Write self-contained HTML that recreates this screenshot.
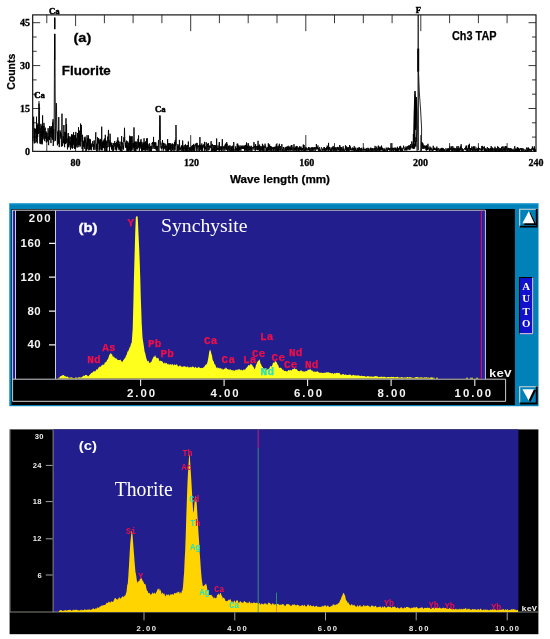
<!DOCTYPE html>
<html lang="en"><head><meta charset="utf-8"><title>Figure</title>
<style>html,body{margin:0;padding:0;background:#fff}svg{display:block}text{white-space:pre}</style>
</head><body>
<svg width="550" height="639" viewBox="0 0 550 639">
<rect width="550" height="639" fill="#fff"/>
<g id="pa" stroke="#000" fill="none">
<rect x="32.7" y="14.9" width="503.3" height="136.5" stroke-width="1.1"/>
<path d="M46.8 14.9v8.3M46.8 151.4v-8.3M75.6 14.9v11.2M75.6 151.4v-16.3M104.4 14.9v8.3M104.4 151.4v-8.3M133.1 14.9v8.3M133.1 151.4v-8.3M161.9 14.9v8.3M161.9 151.4v-8.3M190.7 14.9v16.3M190.7 151.4v-16.3M219.4 14.9v8.3M219.4 151.4v-8.3M248.2 14.9v8.3M248.2 151.4v-8.3M277.0 14.9v8.3M277.0 151.4v-8.3M305.8 14.9v16.3M305.8 151.4v-16.3M334.5 14.9v8.3M334.5 151.4v-8.3M363.3 14.9v8.3M363.3 151.4v-8.3M392.1 14.9v8.3M392.1 151.4v-8.3M420.8 14.9v16.3M420.8 151.4v-16.3M449.6 14.9v8.3M449.6 151.4v-8.3M478.4 14.9v8.3M478.4 151.4v-8.3M507.1 14.9v8.3M507.1 151.4v-8.3M32.7 151.4h7.5M536.0 151.4h-7.5M32.7 137.1h4M536.0 137.1h-4M32.7 122.8h4M536.0 122.8h-4M32.7 108.5h7.5M536.0 108.5h-7.5M32.7 94.2h4M536.0 94.2h-4M32.7 79.9h4M536.0 79.9h-4M32.7 65.6h7.5M536.0 65.6h-7.5M32.7 51.3h4M536.0 51.3h-4M32.7 37.0h4M536.0 37.0h-4M32.7 22.7h7.5M536.0 22.7h-7.5" stroke-width="0.9" stroke="#222"/>
<path d="M33.10 141.3L33.29 120.7L33.48 118.1L33.67 116.7L33.86 126.8L34.05 133.0L34.24 143.4L34.43 141.4L34.62 128.3L34.81 131.8L35.00 143.1L35.19 131.0L35.38 132.9L35.57 128.8L35.76 133.1L35.95 130.1L36.14 142.1L36.33 141.4L36.52 116.7L36.71 138.3L36.90 133.1L37.09 126.0L37.28 143.3L37.47 125.2L37.66 137.0L37.85 123.3L38.04 123.7L38.23 127.6L38.42 133.9L38.61 127.8L38.80 123.3L38.99 103.5L39.18 106.9L39.37 110.3L39.56 133.7L39.75 134.7L39.94 143.6L40.13 127.8L40.32 137.0L40.51 143.5L40.70 141.6L40.89 123.9L41.08 144.2L41.27 141.9L41.46 137.7L41.65 125.7L41.84 143.1L42.03 139.7L42.22 144.3L42.41 142.0L42.60 115.4L42.79 139.8L42.98 130.1L43.17 138.6L43.36 126.1L43.55 129.3L43.74 135.0L43.93 122.9L44.12 126.7L44.31 126.1L44.50 140.8L44.69 141.1L44.88 129.0L45.07 129.8L45.26 127.7L45.45 135.9L45.64 138.7L45.83 137.5L46.02 131.3L46.21 142.2L46.40 142.3L46.59 132.7L46.78 142.6L46.97 132.9L47.16 137.0L47.35 141.2L47.54 140.6L47.73 137.3L47.92 138.5L48.11 128.2L48.30 135.8L48.49 144.9L48.68 145.2L48.87 136.4L49.06 139.2L49.25 130.6L49.44 139.9L49.63 126.1L49.82 128.1L50.01 135.9L50.20 136.9L50.39 127.8L50.58 127.8L50.77 127.8L50.96 143.1L51.15 126.0L51.34 128.7L51.53 133.2L51.72 127.5L51.91 138.1L52.10 130.0L52.29 135.9L52.48 139.6L52.67 122.5L52.86 134.1L53.05 119.2L53.24 145.9L53.43 143.3L53.62 130.8L53.81 129.0L54.00 141.4L54.19 119.6L54.38 79.2L54.57 34.9L54.76 17.8L54.95 42.3L55.14 88.1L55.33 125.3L55.52 140.7L55.71 135.8L55.90 123.2L56.09 110.2L56.28 103.1L56.47 105.8L56.66 116.8L56.85 129.3L57.04 134.2L57.23 140.5L57.42 145.3L57.61 143.8L57.80 131.7L57.99 142.5L58.18 144.0L58.37 130.4L58.56 142.6L58.75 117.1L58.94 138.3L59.13 146.8L59.32 147.1L59.51 143.0L59.70 134.3L59.89 132.1L60.08 130.4L60.27 136.2L60.46 132.0L60.65 133.4L60.84 138.6L61.03 133.3L61.22 135.7L61.41 146.6L61.60 145.4L61.79 136.7L61.98 113.7L62.17 138.9L62.36 146.1L62.55 146.0L62.74 143.9L62.93 139.1L63.12 136.0L63.31 136.8L63.50 143.2L63.69 138.1L63.88 125.0L64.07 142.7L64.26 139.8L64.45 144.2L64.64 147.2L64.83 131.8L65.02 144.1L65.21 138.1L65.40 132.1L65.59 139.4L65.78 143.9L65.97 118.3L66.16 142.8L66.35 142.6L66.54 124.2L66.73 136.3L66.92 141.8L67.11 138.3L67.30 143.4L67.49 149.4L67.68 143.6L67.87 141.9L68.06 135.0L68.25 133.0L68.44 147.1L68.63 136.0L68.82 147.2L69.01 140.5L69.20 136.4L69.39 137.7L69.58 141.9L69.77 144.8L69.96 144.7L70.15 141.1L70.34 146.8L70.53 149.6L70.72 136.7L70.91 140.2L71.10 147.4L71.29 146.5L71.48 135.2L71.67 144.7L71.86 134.0L72.05 148.2L72.24 135.1L72.43 148.6L72.62 136.3L72.81 145.0L73.00 141.0L73.19 138.1L73.38 142.0L73.57 132.2L73.76 144.4L73.95 139.6L74.14 148.0L74.33 143.4L74.52 148.9L74.71 135.2L74.90 142.3L75.09 135.4L75.28 148.9L75.47 143.3L75.66 136.1L75.85 131.9L76.04 138.1L76.23 146.5L76.42 137.9L76.61 138.8L76.80 142.6L76.99 143.8L77.18 147.6L77.37 136.2L77.56 133.0L77.75 139.7L77.94 145.3L78.13 139.6L78.32 144.7L78.51 127.2L78.70 137.0L78.89 147.1L79.08 138.9L79.27 133.8L79.46 145.0L79.65 130.6L79.84 136.2L80.03 140.0L80.22 146.3L80.41 146.5L80.60 123.6L80.79 141.6L80.98 133.4L81.17 133.9L81.36 125.1L81.55 134.9L81.74 139.9L81.93 145.9L82.12 149.1L82.31 146.9L82.50 134.8L82.69 137.3L82.88 151.4L83.07 147.1L83.26 141.4L83.45 141.6L83.64 146.4L83.83 140.7L84.02 147.1L84.21 142.8L84.40 137.5L84.59 139.9L84.78 149.0L84.97 139.6L85.16 136.7L85.35 142.9L85.54 139.3L85.73 140.5L85.92 151.4L86.11 148.6L86.30 142.8L86.49 150.3L86.68 148.1L86.87 140.4L87.06 135.2L87.25 149.3L87.44 145.3L87.63 138.6L87.82 146.0L88.01 138.1L88.20 141.5L88.39 135.3L88.58 139.6L88.77 150.4L88.96 139.4L89.15 146.0L89.34 147.1L89.53 149.3L89.72 138.8L89.91 139.1L90.10 150.0L90.29 139.6L90.48 148.7L90.67 145.7L90.86 148.4L91.05 144.4L91.24 147.7L91.43 150.2L91.62 150.2L91.81 143.4L92.00 147.0L92.19 145.5L92.38 145.4L92.57 144.7L92.76 141.2L92.95 145.0L93.14 145.5L93.33 144.5L93.52 149.7L93.71 144.5L93.90 146.1L94.09 140.4L94.28 140.9L94.47 144.8L94.66 148.7L94.85 149.9L95.04 148.8L95.23 140.9L95.42 139.7L95.61 135.0L95.80 132.3L95.99 140.0L96.18 149.4L96.37 146.4L96.56 143.8L96.75 151.4L96.94 147.6L97.13 146.4L97.32 148.6L97.51 137.2L97.70 143.8L97.89 150.7L98.08 143.4L98.27 140.1L98.46 143.0L98.65 138.2L98.84 143.8L99.03 143.4L99.22 139.7L99.41 149.6L99.60 141.5L99.79 150.7L99.98 146.6L100.17 139.7L100.36 140.1L100.55 146.0L100.74 138.9L100.93 149.1L101.12 144.8L101.31 148.8L101.50 150.2L101.69 126.7L101.88 145.3L102.07 148.2L102.26 150.4L102.45 142.7L102.64 147.7L102.83 141.6L103.02 143.3L103.21 140.5L103.40 148.1L103.59 142.1L103.78 147.0L103.97 143.5L104.16 139.4L104.35 142.7L104.54 142.4L104.73 148.4L104.92 138.3L105.11 151.4L105.30 134.8L105.49 142.3L105.68 146.6L105.87 140.5L106.06 140.3L106.25 151.3L106.44 141.5L106.63 143.6L106.82 151.4L107.01 146.0L107.20 147.6L107.39 147.2L107.58 141.1L107.77 136.6L107.96 142.8L108.15 141.0L108.34 132.1L108.53 129.9L108.72 141.7L108.91 146.9L109.10 140.1L109.29 142.9L109.48 151.3L109.67 141.9L109.86 143.3L110.05 133.7L110.24 135.4L110.43 145.3L110.62 145.7L110.81 142.3L111.00 147.2L111.19 143.4L111.38 145.9L111.57 149.5L111.76 148.2L111.95 142.9L112.14 149.2L112.33 145.0L112.52 148.8L112.71 149.8L112.90 151.4L113.09 146.0L113.28 149.8L113.47 150.6L113.66 143.1L113.85 145.7L114.04 146.4L114.23 146.1L114.42 146.2L114.61 141.1L114.80 141.4L114.99 145.9L115.18 149.9L115.37 143.0L115.56 146.2L115.75 146.4L115.94 149.0L116.13 146.7L116.32 150.6L116.51 142.2L116.70 149.9L116.89 143.0L117.08 141.7L117.27 140.4L117.46 146.7L117.65 140.0L117.84 137.4L118.03 146.4L118.22 148.1L118.41 140.6L118.60 142.1L118.79 149.6L118.98 144.0L119.17 148.6L119.36 144.0L119.55 145.9L119.74 149.7L119.93 141.6L120.12 148.3L120.31 151.1L120.50 148.4L120.69 146.3L120.88 147.1L121.07 150.5L121.26 142.4L121.45 144.1L121.64 136.1L121.83 151.4L122.02 149.4L122.21 149.3L122.40 142.5L122.59 142.4L122.78 143.5L122.97 146.3L123.16 148.2L123.35 145.7L123.54 149.6L123.73 145.2L123.92 137.3L124.11 141.9L124.30 137.4L124.49 127.8L124.68 134.7L124.87 140.4L125.06 141.4L125.25 144.3L125.44 147.2L125.63 142.8L125.82 146.6L126.01 148.0L126.20 145.7L126.39 140.6L126.58 147.6L126.77 144.8L126.96 150.8L127.15 145.3L127.34 151.1L127.53 144.6L127.72 141.3L127.91 144.4L128.10 143.8L128.29 146.3L128.48 151.4L128.67 144.1L128.86 142.7L129.05 148.0L129.24 146.6L129.43 150.6L129.62 135.7L129.81 146.4L130.00 144.9L130.19 146.1L130.38 151.4L130.57 136.5L130.76 150.3L130.95 151.1L131.14 143.4L131.33 136.4L131.52 150.4L131.71 146.3L131.90 141.0L132.09 136.8L132.28 136.3L132.47 146.1L132.66 145.2L132.85 149.7L133.04 144.4L133.23 147.2L133.42 143.0L133.61 147.7L133.80 136.8L133.99 127.4L134.18 134.9L134.37 146.7L134.56 141.8L134.75 151.3L134.94 145.1L135.13 150.8L135.32 142.2L135.51 142.4L135.70 141.7L135.89 151.4L136.08 141.5L136.27 144.2L136.46 148.6L136.65 146.5L136.84 143.2L137.03 142.0L137.22 146.3L137.41 149.3L137.60 147.5L137.79 145.9L137.98 138.8L138.17 143.2L138.36 147.7L138.55 135.4L138.74 145.5L138.93 146.9L139.12 142.9L139.31 150.9L139.50 150.4L139.69 142.4L139.88 142.0L140.07 147.2L140.26 148.7L140.45 141.5L140.64 146.7L140.83 141.2L141.02 139.2L141.21 142.8L141.40 144.1L141.59 150.7L141.78 141.8L141.97 145.3L142.16 151.4L142.35 149.6L142.54 144.5L142.73 149.4L142.92 149.1L143.11 142.4L143.30 150.3L143.49 145.0L143.68 143.1L143.87 149.9L144.06 138.3L144.25 148.7L144.44 148.6L144.63 149.7L144.82 142.3L145.01 150.8L145.20 149.2L145.39 148.8L145.58 141.5L145.77 150.4L145.96 150.8L146.15 141.7L146.34 148.0L146.53 138.6L146.72 142.3L146.91 150.0L147.10 144.3L147.29 138.2L147.48 149.3L147.67 143.4L147.86 150.7L148.05 144.3L148.24 148.1L148.43 146.5L148.62 146.7L148.81 149.5L149.00 149.8L149.19 151.3L149.38 146.3L149.57 143.4L149.76 144.5L149.95 150.8L150.14 146.6L150.33 146.2L150.52 149.2L150.71 151.4L150.90 151.4L151.09 145.8L151.28 150.4L151.47 150.9L151.66 146.6L151.85 147.5L152.04 143.1L152.23 144.2L152.42 142.4L152.61 143.4L152.80 142.4L152.99 149.1L153.18 142.0L153.37 143.6L153.56 136.9L153.75 147.4L153.94 146.3L154.13 146.6L154.32 142.2L154.51 145.4L154.70 143.0L154.89 148.9L155.08 146.3L155.27 149.0L155.46 142.5L155.65 145.3L155.84 142.4L156.03 147.0L156.22 150.2L156.41 147.6L156.60 150.6L156.79 145.7L156.98 149.5L157.17 146.3L157.36 148.5L157.55 146.6L157.74 151.3L157.93 149.2L158.12 148.8L158.31 144.3L158.50 140.0L158.69 147.3L158.88 151.1L159.07 148.3L159.26 145.7L159.45 137.1L159.64 124.5L159.83 115.5L160.02 117.4L160.21 128.4L160.40 140.4L160.59 145.9L160.78 147.2L160.97 147.9L161.16 148.5L161.35 146.9L161.54 148.6L161.73 146.2L161.92 148.5L162.11 142.8L162.30 143.2L162.49 140.0L162.68 146.6L162.87 146.8L163.06 148.2L163.25 143.0L163.44 150.5L163.63 146.4L163.82 142.8L164.01 145.9L164.20 146.7L164.39 148.6L164.58 146.9L164.77 145.3L164.96 143.6L165.15 148.8L165.34 149.7L165.53 146.1L165.72 145.8L165.91 144.5L166.10 151.4L166.29 146.3L166.48 147.1L166.67 145.8L166.86 146.4L167.05 150.0L167.24 151.4L167.43 146.1L167.62 139.1L167.81 148.3L168.00 150.5L168.19 148.4L168.38 150.9L168.57 143.2L168.76 149.3L168.95 144.1L169.14 144.4L169.33 143.2L169.52 149.3L169.71 149.5L169.90 147.3L170.09 149.9L170.28 143.2L170.47 150.4L170.66 148.0L170.85 144.4L171.04 149.8L171.23 151.1L171.42 150.1L171.61 151.4L171.80 144.4L171.99 148.5L172.18 143.4L172.37 147.2L172.56 150.3L172.75 143.9L172.94 149.4L173.13 144.2L173.32 146.9L173.51 148.2L173.70 148.8L173.89 151.4L174.08 150.5L174.27 147.3L174.46 142.1L174.65 149.1L174.84 145.0L175.03 150.3L175.22 140.2L175.41 146.0L175.60 144.5L175.79 136.4L175.98 125.0L176.17 132.1L176.36 145.5L176.55 146.2L176.74 146.8L176.93 147.9L177.12 151.4L177.31 149.1L177.50 146.5L177.69 150.5L177.88 144.1L178.07 151.4L178.26 149.2L178.45 148.0L178.64 145.5L178.83 147.8L179.02 148.0L179.21 150.4L179.40 139.9L179.59 143.7L179.78 149.5L179.97 148.2L180.16 150.4L180.35 149.6L180.54 147.9L180.73 149.1L180.92 147.0L181.11 147.1L181.30 146.2L181.49 145.4L181.68 149.2L181.87 151.0L182.06 146.0L182.25 148.9L182.44 150.1L182.63 140.5L182.82 143.8L183.01 151.4L183.20 151.4L183.39 146.6L183.58 149.5L183.77 151.2L183.96 149.2L184.15 145.0L184.34 145.4L184.53 149.0L184.72 149.0L184.91 148.6L185.10 151.2L185.29 145.2L185.48 144.3L185.67 150.3L185.86 150.9L186.05 148.1L186.24 151.4L186.43 151.4L186.62 145.5L186.81 146.5L187.00 148.9L187.19 145.3L187.38 149.3L187.57 148.9L187.76 151.4L187.95 145.0L188.14 146.8L188.33 141.5L188.52 144.4L188.71 149.3L188.90 151.3L189.09 148.2L189.28 148.7L189.47 147.6L189.66 150.6L189.85 147.4L190.04 149.6L190.23 149.6L190.42 149.8L190.61 147.7L190.80 151.4L190.99 147.5L191.18 150.6L191.37 150.7L191.56 150.2L191.75 145.8L191.94 151.1L192.13 151.4L192.32 149.3L192.51 145.0L192.70 147.4L192.89 150.3L193.08 145.9L193.27 150.6L193.46 144.6L193.65 143.9L193.84 150.6L194.03 149.6L194.22 145.4L194.41 151.3L194.60 150.1L194.79 146.5L194.98 145.2L195.17 145.7L195.36 143.7L195.55 145.7L195.74 145.6L195.93 148.1L196.12 148.6L196.31 150.9L196.50 145.1L196.69 142.9L196.88 148.7L197.07 143.1L197.26 144.5L197.45 146.7L197.64 147.9L197.83 147.7L198.02 151.2L198.21 145.3L198.40 147.0L198.59 145.8L198.78 146.6L198.97 146.2L199.16 149.0L199.35 151.0L199.54 144.5L199.73 149.7L199.92 137.1L200.11 148.3L200.30 150.2L200.49 149.3L200.68 144.9L200.87 147.4L201.06 147.4L201.25 146.1L201.44 150.9L201.63 149.5L201.82 143.5L202.01 148.6L202.20 145.5L202.39 146.4L202.58 150.8L202.77 149.0L202.96 147.7L203.15 145.1L203.34 146.3L203.53 146.8L203.72 144.4L203.91 148.0L204.10 148.2L204.29 147.5L204.48 141.9L204.67 151.4L204.86 151.4L205.05 147.6L205.24 149.1L205.43 146.6L205.62 149.3L205.81 148.3L206.00 145.0L206.19 142.2L206.38 144.7L206.57 150.8L206.76 151.0L206.95 150.1L207.14 150.4L207.33 145.2L207.52 143.8L207.71 147.1L207.90 148.3L208.09 150.6L208.28 143.2L208.47 143.2L208.66 147.2L208.85 149.6L209.04 150.0L209.23 149.4L209.42 147.6L209.61 145.6L209.80 145.9L209.99 148.1L210.18 146.8L210.37 147.5L210.56 145.5L210.75 145.6L210.94 144.8L211.13 141.2L211.32 150.4L211.51 151.4L211.70 145.3L211.89 144.9L212.08 146.1L212.27 143.9L212.46 151.4L212.65 150.6L212.84 148.5L213.03 150.4L213.22 150.6L213.41 145.3L213.60 145.0L213.79 149.6L213.98 150.9L214.17 148.7L214.36 151.3L214.55 147.8L214.74 145.0L214.93 148.8L215.12 145.0L215.31 148.7L215.50 151.3L215.69 149.7L215.88 149.8L216.07 145.9L216.26 151.0L216.45 147.2L216.64 138.5L216.83 148.1L217.02 149.8L217.21 148.9L217.40 148.0L217.59 149.3L217.78 149.9L217.97 145.5L218.16 148.0L218.35 150.4L218.54 148.0L218.73 149.8L218.92 148.4L219.11 145.6L219.30 142.0L219.49 150.4L219.68 151.4L219.87 150.8L220.06 146.9L220.25 146.3L220.44 147.0L220.63 149.8L220.82 148.9L221.01 147.7L221.20 146.8L221.39 149.8L221.58 151.4L221.77 146.3L221.96 149.0L222.15 143.0L222.34 139.1L222.53 143.9L222.72 149.5L222.91 149.0L223.10 150.9L223.29 148.0L223.48 146.6L223.67 148.4L223.86 148.7L224.05 148.6L224.24 146.2L224.43 148.8L224.62 147.9L224.81 150.6L225.00 144.7L225.19 147.8L225.38 146.9L225.57 143.6L225.76 146.2L225.95 149.3L226.14 144.2L226.33 149.8L226.52 148.2L226.71 142.1L226.90 149.7L227.09 143.8L227.28 147.7L227.47 150.1L227.66 151.0L227.85 148.8L228.04 149.6L228.23 146.9L228.42 148.5L228.61 145.9L228.80 147.4L228.99 150.9L229.18 145.6L229.37 148.3L229.56 149.5L229.75 150.4L229.94 150.7L230.13 145.5L230.32 149.8L230.51 150.4L230.70 151.1L230.89 149.9L231.08 147.9L231.27 149.4L231.46 146.4L231.65 151.1L231.84 150.0L232.03 151.4L232.22 150.6L232.41 145.7L232.60 148.1L232.79 146.8L232.98 150.8L233.17 147.7L233.36 151.4L233.55 150.0L233.74 142.0L233.93 147.4L234.12 148.6L234.31 150.3L234.50 150.9L234.69 151.4L234.88 151.1L235.07 151.4L235.26 149.1L235.45 150.3L235.64 146.3L235.83 150.4L236.02 150.6L236.21 150.6L236.40 148.1L236.59 150.2L236.78 150.6L236.97 148.3L237.16 143.7L237.35 147.2L237.54 150.4L237.73 143.7L237.92 150.8L238.11 147.8L238.30 151.0L238.49 145.5L238.68 147.2L238.87 146.5L239.06 151.3L239.25 148.9L239.44 147.0L239.63 149.3L239.82 150.0L240.01 145.4L240.20 148.4L240.39 146.9L240.58 147.6L240.77 150.8L240.96 150.4L241.15 146.9L241.34 145.8L241.53 146.4L241.72 148.8L241.91 146.2L242.10 148.2L242.29 145.6L242.48 146.4L242.67 148.7L242.86 146.0L243.05 149.0L243.24 147.3L243.43 149.0L243.62 146.4L243.81 146.5L244.00 145.4L244.19 148.9L244.38 149.4L244.57 146.4L244.76 150.8L244.95 148.8L245.14 150.6L245.33 144.9L245.52 149.2L245.71 147.8L245.90 148.4L246.09 145.6L246.28 150.4L246.47 142.5L246.66 149.9L246.85 151.4L247.04 146.0L247.23 150.9L247.42 145.8L247.61 147.7L247.80 147.4L247.99 149.3L248.18 143.4L248.37 147.0L248.56 147.0L248.75 150.6L248.94 150.5L249.13 151.1L249.32 147.7L249.51 149.7L249.70 145.8L249.89 147.5L250.08 147.3L250.27 150.4L250.46 146.8L250.65 148.4L250.84 147.1L251.03 151.0L251.22 145.8L251.41 149.6L251.60 149.5L251.79 151.4L251.98 149.8L252.17 148.8L252.36 146.9L252.55 147.1L252.74 147.6L252.93 149.3L253.12 149.7L253.31 147.0L253.50 148.2L253.69 147.5L253.88 142.1L254.07 142.2L254.26 147.6L254.45 147.5L254.64 146.1L254.83 149.1L255.02 150.3L255.21 148.4L255.40 150.6L255.59 144.2L255.78 148.1L255.97 149.8L256.16 146.7L256.35 147.1L256.54 146.3L256.73 147.7L256.92 147.4L257.11 149.8L257.30 146.8L257.49 150.1L257.68 145.9L257.87 147.5L258.06 140.8L258.25 149.8L258.44 148.3L258.63 145.5L258.82 149.5L259.01 150.1L259.20 146.7L259.39 151.2L259.58 144.6L259.77 147.4L259.96 148.5L260.15 146.6L260.34 146.1L260.53 150.9L260.72 148.9L260.91 148.9L261.10 149.1L261.29 147.3L261.48 150.3L261.67 149.9L261.86 146.0L262.05 146.3L262.24 151.0L262.43 143.8L262.62 149.4L262.81 146.0L263.00 144.9L263.19 148.9L263.38 151.4L263.57 146.4L263.76 146.9L263.95 151.4L264.14 151.2L264.33 146.3L264.52 147.4L264.71 146.8L264.90 144.2L265.09 143.7L265.28 144.4L265.47 148.0L265.66 147.9L265.85 146.5L266.04 151.4L266.23 148.2L266.42 149.0L266.61 151.1L266.80 147.8L266.99 147.9L267.18 150.6L267.37 151.0L267.56 150.1L267.75 147.0L267.94 151.1L268.13 147.1L268.32 143.3L268.51 146.4L268.70 149.9L268.89 145.8L269.08 150.4L269.27 148.6L269.46 146.7L269.65 144.5L269.84 148.1L270.03 150.9L270.22 149.8L270.41 146.0L270.60 148.9L270.79 150.3L270.98 146.2L271.17 150.8L271.36 146.9L271.55 149.8L271.74 148.2L271.93 151.3L272.12 147.7L272.31 149.0L272.50 148.0L272.69 147.2L272.88 147.6L273.07 146.9L273.26 150.4L273.45 147.7L273.64 149.5L273.83 151.4L274.02 147.4L274.21 147.5L274.40 149.2L274.59 146.8L274.78 147.4L274.97 147.3L275.16 151.4L275.35 148.6L275.54 148.6L275.73 146.5L275.92 147.8L276.11 151.4L276.30 144.2L276.49 149.1L276.68 147.5L276.87 150.0L277.06 150.3L277.25 148.1L277.44 148.3L277.63 151.0L277.82 145.9L278.01 146.4L278.20 147.4L278.39 151.4L278.58 147.7L278.77 149.6L278.96 145.7L279.15 148.0L279.34 143.8L279.53 148.4L279.72 150.6L279.91 149.4L280.10 150.2L280.29 146.0L280.48 147.7L280.67 150.1L280.86 150.8L281.05 149.9L281.24 150.2L281.43 149.4L281.62 149.0L281.81 144.1L282.00 146.0L282.19 150.9L282.38 150.5L282.57 150.7L282.76 149.0L282.95 151.0L283.14 148.5L283.33 147.1L283.52 148.7L283.71 147.1L283.90 151.4L284.09 151.0L284.28 150.3L284.47 150.7L284.66 150.4L284.85 148.8L285.04 147.7L285.23 148.9L285.42 150.6L285.61 147.7L285.80 146.9L285.99 148.4L286.18 151.4L286.37 150.4L286.56 146.8L286.75 151.3L286.94 149.0L287.13 148.9L287.32 150.3L287.51 146.5L287.70 146.7L287.89 149.7L288.08 146.1L288.27 145.8L288.46 147.9L288.65 150.8L288.84 150.7L289.03 147.1L289.22 150.5L289.41 149.4L289.60 147.2L289.79 146.8L289.98 146.3L290.17 149.9L290.36 149.3L290.55 147.5L290.74 150.8L290.93 148.5L291.12 146.7L291.31 145.1L291.50 150.1L291.69 148.8L291.88 145.0L292.07 147.5L292.26 148.1L292.45 150.5L292.64 150.2L292.83 150.4L293.02 147.1L293.21 149.6L293.40 150.7L293.59 150.1L293.78 149.4L293.97 144.2L294.16 148.0L294.35 149.1L294.54 150.6L294.73 147.7L294.92 148.4L295.11 150.4L295.30 150.1L295.49 147.4L295.68 150.4L295.87 148.0L296.06 146.2L296.25 146.0L296.44 151.2L296.63 146.8L296.82 148.9L297.01 149.1L297.20 146.3L297.39 148.1L297.58 148.0L297.77 150.5L297.96 151.1L298.15 149.6L298.34 147.7L298.53 151.4L298.72 147.7L298.91 151.4L299.10 148.7L299.29 150.2L299.48 148.9L299.67 146.2L299.86 148.2L300.05 150.4L300.24 150.1L300.43 147.8L300.62 147.0L300.81 149.9L301.00 146.6L301.19 150.6L301.38 149.2L301.57 149.0L301.76 148.1L301.95 150.8L302.14 149.1L302.33 150.3L302.52 148.1L302.71 149.3L302.90 148.5L303.09 148.5L303.28 144.6L303.47 148.6L303.66 144.9L303.85 151.4L304.04 145.0L304.23 151.4L304.42 150.6L304.61 149.4L304.80 150.2L304.99 150.2L305.18 147.3L305.37 148.6L305.56 148.2L305.75 150.5L305.94 151.4L306.13 149.2L306.32 147.5L306.51 148.0L306.70 149.5L306.89 148.8L307.08 148.6L307.27 149.9L307.46 150.2L307.65 149.8L307.84 150.3L308.03 148.5L308.22 150.2L308.41 147.0L308.60 147.8L308.79 149.6L308.98 149.0L309.17 149.8L309.36 147.5L309.55 148.1L309.74 151.1L309.93 149.3L310.12 147.9L310.31 149.8L310.50 151.3L310.69 151.0L310.88 150.4L311.07 147.8L311.26 148.6L311.45 147.4L311.64 147.5L311.83 151.4L312.02 149.5L312.21 150.4L312.40 147.2L312.59 147.4L312.78 149.4L312.97 150.9L313.16 147.9L313.35 148.1L313.54 147.5L313.73 149.7L313.92 150.4L314.11 148.2L314.30 149.1L314.49 147.2L314.68 147.9L314.87 148.9L315.06 149.7L315.25 151.2L315.44 147.4L315.63 147.3L315.82 148.6L316.01 148.7L316.20 149.5L316.39 144.0L316.58 148.1L316.77 149.1L316.96 147.4L317.15 148.2L317.34 148.3L317.53 147.4L317.72 149.4L317.91 145.5L318.10 148.6L318.29 148.0L318.48 150.6L318.67 150.0L318.86 150.9L319.05 149.2L319.24 149.4L319.43 147.3L319.62 148.8L319.81 151.0L320.00 149.6L320.19 149.8L320.38 150.6L320.57 151.2L320.76 149.8L320.95 149.6L321.14 149.0L321.33 147.3L321.52 147.7L321.71 148.4L321.90 149.0L322.09 150.8L322.28 151.2L322.47 149.2L322.66 149.8L322.85 148.6L323.04 149.7L323.23 150.2L323.42 149.8L323.61 150.1L323.80 150.6L323.99 147.0L324.18 150.3L324.37 148.2L324.56 147.3L324.75 150.9L324.94 150.5L325.13 149.7L325.32 148.1L325.51 151.1L325.70 151.2L325.89 150.8L326.08 148.7L326.27 149.8L326.46 149.7L326.65 147.2L326.84 150.6L327.03 149.8L327.22 145.6L327.41 148.0L327.60 147.6L327.79 149.6L327.98 147.5L328.17 150.6L328.36 151.3L328.55 142.9L328.74 148.5L328.93 149.6L329.12 147.4L329.31 149.7L329.50 148.0L329.69 147.2L329.88 148.2L330.07 150.6L330.26 150.2L330.45 151.4L330.64 148.9L330.83 149.5L331.02 151.4L331.21 147.7L331.40 150.2L331.59 150.9L331.78 150.4L331.97 149.8L332.16 147.2L332.35 148.0L332.54 147.7L332.73 149.3L332.92 150.7L333.11 145.9L333.30 148.7L333.49 147.9L333.68 150.9L333.87 151.2L334.06 148.3L334.25 147.5L334.44 147.9L334.63 149.2L334.82 147.5L335.01 150.3L335.20 147.6L335.39 148.1L335.58 147.8L335.77 151.4L335.96 150.4L336.15 147.3L336.34 148.5L336.53 150.6L336.72 149.3L336.91 149.0L337.10 150.6L337.29 147.4L337.48 148.9L337.67 149.1L337.86 146.9L338.05 149.0L338.24 149.8L338.43 149.1L338.62 149.8L338.81 147.3L339.00 151.0L339.19 150.5L339.38 147.9L339.57 147.5L339.76 145.0L339.95 147.3L340.14 151.3L340.33 148.9L340.52 146.8L340.71 151.4L340.90 150.0L341.09 148.5L341.28 147.3L341.47 150.2L341.66 148.6L341.85 147.3L342.04 150.7L342.23 149.9L342.42 150.7L342.61 148.9L342.80 149.3L342.99 149.6L343.18 146.3L343.37 150.3L343.56 150.9L343.75 150.0L343.94 148.6L344.13 149.3L344.32 150.6L344.51 151.4L344.70 150.1L344.89 150.3L345.08 150.0L345.27 149.6L345.46 145.3L345.65 148.8L345.84 150.0L346.03 148.4L346.22 148.6L346.41 151.0L346.60 146.4L346.79 151.4L346.98 148.6L347.17 148.5L347.36 151.0L347.55 147.6L347.74 149.3L347.93 149.3L348.12 147.5L348.31 150.8L348.50 148.5L348.69 147.4L348.88 148.1L349.07 151.1L349.26 149.9L349.45 148.4L349.64 145.0L349.83 147.8L350.02 147.8L350.21 149.8L350.40 146.5L350.59 150.0L350.78 147.8L350.97 148.7L351.16 150.5L351.35 150.0L351.54 149.0L351.73 149.3L351.92 148.7L352.11 150.2L352.30 148.2L352.49 147.6L352.68 150.2L352.87 148.0L353.06 150.5L353.25 150.1L353.44 148.4L353.63 148.2L353.82 148.8L354.01 151.1L354.20 146.1L354.39 148.1L354.58 150.9L354.77 149.4L354.96 149.4L355.15 147.9L355.34 149.7L355.53 150.6L355.72 147.6L355.91 147.9L356.10 150.6L356.29 150.9L356.48 149.8L356.67 151.3L356.86 151.3L357.05 150.0L357.24 150.6L357.43 148.9L357.62 147.9L357.81 149.0L358.00 151.2L358.19 148.9L358.38 150.5L358.57 149.9L358.76 147.4L358.95 150.4L359.14 151.2L359.33 150.3L359.52 147.4L359.71 150.4L359.90 148.0L360.09 148.2L360.28 148.3L360.47 151.0L360.66 151.4L360.85 151.4L361.04 148.5L361.23 150.7L361.42 149.9L361.61 147.8L361.80 148.9L361.99 151.0L362.18 150.9L362.37 150.1L362.56 150.0L362.75 149.9L362.94 148.7L363.13 149.7L363.32 149.5L363.51 148.4L363.70 147.5L363.89 149.4L364.08 150.7L364.27 150.3L364.46 148.9L364.65 150.1L364.84 149.4L365.03 150.1L365.22 148.9L365.41 150.5L365.60 149.1L365.79 149.6L365.98 148.8L366.17 151.2L366.36 148.5L366.55 150.7L366.74 151.3L366.93 148.1L367.12 147.9L367.31 150.0L367.50 151.1L367.69 150.9L367.88 150.3L368.07 147.9L368.26 148.2L368.45 148.2L368.64 151.0L368.83 148.9L369.02 148.6L369.21 149.6L369.40 150.3L369.59 150.4L369.78 150.5L369.97 149.9L370.16 151.3L370.35 147.9L370.54 150.0L370.73 149.8L370.92 147.7L371.11 148.3L371.30 150.0L371.49 151.4L371.68 149.1L371.87 151.4L372.06 148.1L372.25 148.9L372.44 150.2L372.63 148.7L372.82 148.7L373.01 151.0L373.20 150.8L373.39 149.9L373.58 149.1L373.77 149.3L373.96 148.1L374.15 150.6L374.34 149.1L374.53 148.3L374.72 150.5L374.91 149.9L375.10 145.9L375.29 148.5L375.48 148.0L375.67 151.1L375.86 151.4L376.05 149.9L376.24 151.0L376.43 147.2L376.62 147.5L376.81 146.6L377.00 150.2L377.19 149.4L377.38 148.4L377.57 150.7L377.76 149.8L377.95 149.6L378.14 149.2L378.33 145.6L378.52 146.1L378.71 150.9L378.90 148.5L379.09 148.8L379.28 146.8L379.47 150.9L379.66 148.3L379.85 148.2L380.04 151.1L380.23 146.7L380.42 149.4L380.61 149.4L380.80 149.9L380.99 147.6L381.18 148.1L381.37 150.3L381.56 145.6L381.75 148.4L381.94 149.4L382.13 147.9L382.32 149.8L382.51 147.8L382.70 148.6L382.89 151.0L383.08 151.3L383.27 149.6L383.46 150.5L383.65 151.4L383.84 149.8L384.03 148.1L384.22 151.0L384.41 149.1L384.60 151.4L384.79 150.3L384.98 149.7L385.17 150.3L385.36 151.1L385.55 150.5L385.74 149.5L385.93 149.8L386.12 147.6L386.31 147.7L386.50 149.0L386.69 148.9L386.88 151.1L387.07 150.4L387.26 149.6L387.45 151.4L387.64 148.7L387.83 147.7L388.02 150.0L388.21 148.9L388.40 149.4L388.59 147.7L388.78 149.6L388.97 148.5L389.16 148.2L389.35 148.4L389.54 150.0L389.73 148.1L389.92 150.8L390.11 150.1L390.30 148.6L390.49 150.2L390.68 150.4L390.87 146.7L391.06 143.2L391.25 150.5L391.44 151.4L391.63 150.3L391.82 147.6L392.01 148.1L392.20 148.3L392.39 148.3L392.58 150.4L392.77 148.7L392.96 149.0L393.15 148.3L393.34 147.8L393.53 151.4L393.72 148.9L393.91 149.7L394.10 150.2L394.29 148.3L394.48 148.0L394.67 149.5L394.86 147.6L395.05 149.0L395.24 150.8L395.43 151.4L395.62 147.8L395.81 148.4L396.00 150.3L396.19 149.0L396.38 149.1L396.57 150.1L396.76 151.4L396.95 147.7L397.14 149.2L397.33 150.4L397.52 146.8L397.71 151.1L397.90 149.1L398.09 148.1L398.28 151.3L398.47 150.4L398.66 148.0L398.85 150.0L399.04 149.1L399.23 147.9L399.42 149.2L399.61 146.4L399.80 149.0L399.99 149.4L400.18 151.4L400.37 151.2L400.56 145.9L400.75 150.5L400.94 149.1L401.13 147.7L401.32 150.4L401.51 150.1L401.70 149.3L401.89 151.3L402.08 147.8L402.27 149.8L402.46 151.1L402.65 150.9L402.84 149.2L403.03 149.3L403.22 148.0L403.41 148.2L403.60 145.7L403.79 148.3L403.98 147.3L404.17 147.7L404.36 148.3L404.55 150.2L404.74 150.4L404.93 150.3L405.12 150.5L405.31 149.5L405.50 147.8L405.69 150.0L405.88 147.6L406.07 146.4L406.26 150.3L406.45 149.2L406.64 149.4L406.83 147.1L407.02 150.3L407.21 149.5L407.40 148.8L407.59 147.7L407.78 146.0L407.97 148.1L408.16 149.1L408.35 147.6L408.54 146.5L408.73 145.8L408.92 149.7L409.11 145.1L409.30 146.8L409.49 147.4L409.68 146.2L409.87 150.0L410.06 146.8L410.25 147.8L410.44 145.9L410.63 144.2L410.82 148.6L411.01 146.5L411.20 147.1L411.39 145.3L411.58 144.9L411.77 141.5L411.96 145.4L412.15 148.0L412.34 147.3L412.53 147.7L412.72 144.7L412.91 148.5L413.10 143.6L413.29 144.9L413.48 146.3L413.67 139.1L413.86 144.1L414.05 144.2L414.24 145.5L414.43 144.7L414.62 148.4L414.81 143.8L415.00 146.0L415.19 144.4L415.38 141.1L415.57 142.8L415.76 146.6L415.95 137.3L416.14 140.7L416.33 141.8L416.52 139.1L416.71 137.8L416.90 146.0L417.09 151.4L417.28 151.4L417.47 151.4L417.66 151.4L417.85 151.4L418.04 151.4L418.23 151.4L418.42 151.4L418.61 151.4L418.80 151.4L418.99 151.4L419.18 151.4L419.37 151.4L419.56 151.4L419.75 151.4L419.94 151.4L420.13 151.4L420.32 151.4L420.51 151.4L420.70 151.4L420.89 151.4L421.08 151.4L421.27 151.4L421.46 142.3L421.65 142.5L421.84 144.4L422.03 145.2L422.22 142.4L422.41 147.0L422.60 147.3L422.79 148.6L422.98 143.5L423.17 149.0L423.36 148.2L423.55 145.8L423.74 145.3L423.93 145.6L424.12 145.2L424.31 147.0L424.50 147.6L424.69 148.6L424.88 145.8L425.07 147.8L425.26 147.8L425.45 146.3L425.64 148.2L425.83 147.1L426.02 150.1L426.21 145.4L426.40 146.6L426.59 150.6L426.78 145.4L426.97 148.8L427.16 149.7L427.35 146.0L427.54 149.8L427.73 147.9L427.92 143.8L428.11 146.1L428.30 147.6L428.49 149.2L428.68 148.7L428.87 147.7L429.06 149.7L429.25 148.8L429.44 149.2L429.63 151.1L429.82 150.2L430.01 146.5L430.20 148.5L430.39 148.1L430.58 149.1L430.77 149.9L430.96 147.5L431.15 150.7L431.34 148.7L431.53 149.0L431.72 148.9L431.91 148.6L432.10 149.8L432.29 149.4L432.48 149.8L432.67 151.0L432.86 149.8L433.05 150.1L433.24 145.8L433.43 150.2L433.62 148.3L433.81 148.8L434.00 150.0L434.19 148.3L434.38 149.3L434.57 149.8L434.76 147.6L434.95 149.7L435.14 149.2L435.33 149.9L435.52 148.8L435.71 150.2L435.90 149.9L436.09 148.8L436.28 148.0L436.47 151.1L436.66 149.1L436.85 146.6L437.04 149.2L437.23 150.6L437.42 148.6L437.61 149.9L437.80 150.8L437.99 150.3L438.18 150.0L438.37 148.6L438.56 148.1L438.75 149.6L438.94 150.5L439.13 150.2L439.32 149.6L439.51 150.3L439.70 151.4L439.89 151.3L440.08 148.5L440.27 150.6L440.46 150.2L440.65 148.9L440.84 151.1L441.03 150.6L441.22 149.4L441.41 147.9L441.60 151.4L441.79 148.4L441.98 150.2L442.17 151.2L442.36 147.9L442.55 150.5L442.74 151.4L442.93 150.8L443.12 150.6L443.31 149.1L443.50 148.3L443.69 150.6L443.88 149.5L444.07 149.8L444.26 151.4L444.45 149.3L444.64 150.5L444.83 151.1L445.02 150.0L445.21 150.4L445.40 150.1L445.59 149.5L445.78 148.6L445.97 148.1L446.16 148.7L446.35 149.4L446.54 151.2L446.73 150.0L446.92 151.4L447.11 150.4L447.30 149.0L447.49 151.0L447.68 148.5L447.87 149.6L448.06 150.2L448.25 148.4L448.44 150.2L448.63 148.6L448.82 151.4L449.01 149.6L449.20 150.0L449.39 151.4L449.58 149.2L449.77 148.1L449.96 146.3L450.15 148.7L450.34 148.2L450.53 149.8L450.72 148.7L450.91 148.9L451.10 150.2L451.29 149.9L451.48 149.6L451.67 146.4L451.86 151.0L452.05 148.5L452.24 149.2L452.43 151.3L452.62 150.6L452.81 146.2L453.00 150.4L453.19 148.0L453.38 148.5L453.57 150.3L453.76 147.9L453.95 150.7L454.14 147.8L454.33 149.1L454.52 150.5L454.71 148.9L454.90 150.5L455.09 149.3L455.28 148.3L455.47 149.8L455.66 148.8L455.85 151.4L456.04 149.4L456.23 150.3L456.42 150.4L456.61 149.4L456.80 146.4L456.99 151.2L457.18 149.6L457.37 151.4L457.56 149.5L457.75 148.1L457.94 150.6L458.13 146.0L458.32 149.4L458.51 149.2L458.70 151.3L458.89 151.0L459.08 148.6L459.27 148.0L459.46 150.6L459.65 148.9L459.84 150.1L460.03 150.8L460.22 146.7L460.41 150.0L460.60 149.4L460.79 146.5L460.98 148.6L461.17 144.3L461.36 150.2L461.55 150.7L461.74 150.8L461.93 151.2L462.12 148.0L462.31 149.8L462.50 149.0L462.69 150.9L462.88 149.9L463.07 151.4L463.26 149.3L463.45 149.8L463.64 150.0L463.83 149.6L464.02 149.5L464.21 149.3L464.40 149.0L464.59 148.1L464.78 148.4L464.97 148.0L465.16 149.8L465.35 148.2L465.54 147.8L465.73 146.6L465.92 150.1L466.11 149.3L466.30 145.5L466.49 148.4L466.68 146.7L466.87 151.4L467.06 150.0L467.25 148.2L467.44 151.1L467.63 149.1L467.82 150.6L468.01 151.4L468.20 151.3L468.39 145.1L468.58 148.9L468.77 148.7L468.96 146.2L469.15 150.7L469.34 143.8L469.53 148.8L469.72 148.0L469.91 148.1L470.10 150.8L470.29 148.0L470.48 151.1L470.67 149.0L470.86 150.4L471.05 149.0L471.24 148.5L471.43 150.1L471.62 147.3L471.81 146.5L472.00 149.0L472.19 150.8L472.38 150.6L472.57 149.3L472.76 150.6L472.95 146.9L473.14 149.5L473.33 148.7L473.52 146.4L473.71 150.8L473.90 151.4L474.09 147.2L474.28 147.5L474.47 150.3L474.66 146.5L474.85 146.2L475.04 148.6L475.23 149.8L475.42 150.4L475.61 149.3L475.80 151.3L475.99 148.4L476.18 147.6L476.37 148.5L476.56 150.2L476.75 149.5L476.94 150.2L477.13 150.9L477.32 149.3L477.51 148.5L477.70 149.7L477.89 151.1L478.08 148.4L478.27 151.4L478.46 146.8L478.65 151.4L478.84 150.4L479.03 150.1L479.22 148.0L479.41 149.0L479.60 148.1L479.79 149.5L479.98 148.8L480.17 149.8L480.36 149.0L480.55 148.7L480.74 149.8L480.93 150.3L481.12 149.7L481.31 151.4L481.50 150.3L481.69 150.2L481.88 146.1L482.07 150.4L482.26 145.9L482.45 150.3L482.64 148.1L482.83 148.1L483.02 148.6L483.21 146.9L483.40 147.2L483.59 148.3L483.78 148.4L483.97 149.8L484.16 150.8L484.35 146.4L484.54 151.2L484.73 148.7L484.92 149.9L485.11 149.8L485.30 148.4L485.49 151.1L485.68 151.2L485.87 149.0L486.06 148.5L486.25 151.4L486.44 150.7L486.63 149.5L486.82 151.1L487.01 150.5L487.20 148.3L487.39 147.1L487.58 148.3L487.77 148.1L487.96 151.2L488.15 148.8L488.34 148.1L488.53 151.3L488.72 148.3L488.91 150.8L489.10 151.4L489.29 149.0L489.48 149.7L489.67 150.0L489.86 149.1L490.05 151.4L490.24 148.1L490.43 148.8L490.62 148.0L490.81 150.8L491.00 149.4L491.19 146.1L491.38 148.5L491.57 148.4L491.76 151.4L491.95 148.8L492.14 150.8L492.33 147.5L492.52 150.3L492.71 150.8L492.90 150.3L493.09 148.1L493.28 149.5L493.47 149.1L493.66 150.5L493.85 149.9L494.04 150.7L494.23 150.8L494.42 150.3L494.61 148.4L494.80 151.4L494.99 146.7L495.18 149.2L495.37 148.8L495.56 151.2L495.75 151.4L495.94 148.3L496.13 149.9L496.32 150.0L496.51 151.4L496.70 149.4L496.89 148.3L497.08 151.4L497.27 149.8L497.46 148.6L497.65 146.3L497.84 149.1L498.03 149.3L498.22 151.4L498.41 148.5L498.60 147.0L498.79 148.5L498.98 151.0L499.17 150.0L499.36 149.3L499.55 151.3L499.74 148.3L499.93 151.4L500.12 148.4L500.31 149.3L500.50 150.6L500.69 150.8L500.88 149.3L501.07 148.2L501.26 150.5L501.45 148.5L501.64 146.8L501.83 149.8L502.02 151.2L502.21 149.6L502.40 149.9L502.59 151.4L502.78 146.3L502.97 148.6L503.16 149.3L503.35 150.7L503.54 148.9L503.73 150.2L503.92 146.7L504.11 148.5L504.30 149.2L504.49 150.7L504.68 150.4L504.87 148.2L505.06 151.3L505.25 146.2L505.44 150.6L505.63 146.4L505.82 149.3L506.01 149.5L506.20 148.5L506.39 146.8L506.58 146.3L506.77 148.2L506.96 151.4L507.15 151.1L507.34 148.7L507.53 149.1L507.72 148.8L507.91 151.0L508.10 148.6L508.29 148.1L508.48 147.9L508.67 150.3L508.86 149.4L509.05 148.2L509.24 149.9L509.43 149.8L509.62 151.4L509.81 148.5L510.00 151.1L510.19 149.0L510.38 150.2L510.57 148.3L510.76 149.7L510.95 151.4L511.14 148.4L511.33 150.5L511.52 149.3L511.71 150.6L511.90 149.1L512.09 151.3L512.28 151.0L512.47 150.4L512.66 150.8L512.85 149.2L513.04 148.8L513.23 149.5L513.42 151.3L513.61 150.3L513.80 151.4L513.99 149.8L514.18 151.2L514.37 148.3L514.56 148.3L514.75 146.2L514.94 149.5L515.13 151.1L515.32 151.2L515.51 148.6L515.70 150.7L515.89 149.4L516.08 151.4L516.27 148.8L516.46 150.6L516.65 149.4L516.84 151.4L517.03 148.3L517.22 150.2L517.41 147.0L517.60 151.0L517.79 150.3L517.98 150.9L518.17 151.1L518.36 147.8L518.55 148.2L518.74 151.4L518.93 148.6L519.12 150.0L519.31 151.4L519.50 149.2L519.69 149.5L519.88 150.6L520.07 148.5L520.26 149.5L520.45 148.2L520.64 148.8L520.83 148.8L521.02 148.9L521.21 148.6L521.40 148.0L521.59 151.4L521.78 149.3L521.97 149.7L522.16 149.8L522.35 149.2L522.54 148.4L522.73 150.4L522.92 151.4L523.11 149.0L523.30 148.6L523.49 149.8L523.68 150.6L523.87 150.2L524.06 149.2L524.25 149.9L524.44 150.6L524.63 150.9L524.82 151.1L525.01 151.4L525.20 151.0L525.39 150.1L525.58 151.3L525.77 151.3L525.96 149.1L526.15 149.5L526.34 149.2L526.53 147.6L526.72 149.7L526.91 150.7L527.10 150.0L527.29 151.1L527.48 150.6L527.67 150.4L527.86 147.8L528.05 151.1L528.24 147.5L528.43 150.4L528.62 148.3L528.81 148.5L529.00 149.8L529.19 150.9L529.38 150.5L529.57 148.8L529.76 149.9L529.95 149.2L530.14 149.6L530.33 149.0L530.52 149.8L530.71 150.0L530.90 151.4L531.09 149.6L531.28 150.9L531.47 148.6L531.66 149.7L531.85 149.5L532.04 149.9L532.23 148.5L532.42 146.5L532.61 148.7L532.80 147.7L532.99 150.0L533.18 148.2L533.37 149.1L533.56 149.9L533.75 150.8L533.94 149.2L534.13 149.7L534.32 146.3L534.51 151.4L534.70 151.4L534.89 148.7L535.08 150.4L535.27 149.8L535.46 151.4" stroke-width="0.9" stroke="#000" stroke-linejoin="bevel"/>
<path d="M39 101V128M160 115.5V140" stroke-width="0.9"/>
<path d="M54.7 17.4V60" stroke-width="1.2" stroke="#000"/>
<rect x="53" y="29.2" width="4" height="4.6" fill="#fff" stroke="none"/>
<path d="M418.2 15V150" stroke-width="1" stroke="#222"/>
<path d="M418.2 48.6V71.6" stroke-width="2" stroke="#000"/>
<path d="M413.4 148L414 132L414.5 112L415 91L415.5 106L416.2 97L416.8 112L417 130L416.4 141" stroke-width="1.5" stroke="#000" stroke-linejoin="bevel"/>
<path d="M415.8 100V130M414.7 110V142M413.6 134V149" stroke-width="1.6" stroke="#000"/>
<path d="M418.2 15V150" stroke-width="0.6" stroke="#000"/>
<path d="M418.5 71L419.3 92L420.6 110L421.6 128L421.4 150" stroke-width="0.9" stroke="#111"/>
<path d="M416.6 128L417.6 150" stroke-width="0.7" stroke="#333"/>
</g>
<g font-family="'Liberation Serif',serif" font-weight="bold" font-size="10px" fill="#000" stroke="#000" stroke-width="0.3">
<text x="30" y="26.2" text-anchor="end">45</text>
<text x="30" y="69.2" text-anchor="end">30</text>
<text x="30" y="112.0" text-anchor="end">15</text>
<text x="30" y="154.6" text-anchor="end">0</text>
<text x="75.6" y="166" text-anchor="middle">80</text>
<text x="191.4" y="166" text-anchor="middle">120</text>
<text x="306.8" y="166" text-anchor="middle">160</text>
<text x="420.6" y="166" text-anchor="middle">200</text>
<text x="536" y="166" text-anchor="middle">240</text>
<text x="54.4" y="14.4" text-anchor="middle" font-size="8.7px" stroke-width="0.45">Ca</text>
<text x="39.6" y="98" text-anchor="middle" font-size="8.7px" stroke-width="0.45">Ca</text>
<text x="160.3" y="112.2" text-anchor="middle" font-size="8.7px" stroke-width="0.45">Ca</text>
<text x="418.3" y="12.8" text-anchor="middle" font-size="8.7px" stroke-width="0.45">F</text>
</g>
<g font-family="'Liberation Sans',sans-serif" font-weight="bold" fill="#000">
<text x="73.5" y="42" font-size="13.5px" stroke="#000" stroke-width="0.3" textLength="17.8" lengthAdjust="spacingAndGlyphs">(a)</text>
<text x="61.8" y="75.2" font-size="13.3px" stroke="#000" stroke-width="0.3" textLength="49" lengthAdjust="spacingAndGlyphs">Fluorite</text>
<text x="452" y="39.7" font-size="13.3px" stroke="#000" stroke-width="0.25" textLength="44.5" lengthAdjust="spacingAndGlyphs">Ch3 TAP</text>
<text x="230" y="183" font-size="11.8px" stroke="#000" stroke-width="0.25" textLength="100" lengthAdjust="spacingAndGlyphs">Wave length (mm)</text>
<text transform="translate(15.3,89.8) rotate(-90)" font-size="11.5px" textLength="36" lengthAdjust="spacingAndGlyphs" stroke="#000" stroke-width="0.25">Counts</text>
</g>
<g id="pb">
<rect x="9.3" y="203.4" width="529.2" height="202.8" fill="#0082b8"/>
<rect x="9.3" y="203.4" width="529.2" height="1" fill="#2aa0d8"/>
<rect x="11.5" y="209" width="503.4" height="196" fill="#000"/>
<rect x="12.7" y="210.3" width="2.6" height="168.8" fill="#1a14a0"/>
<rect x="55.6" y="210.3" width="429.8" height="168.3" fill="#231e8e"/>
<path d="M12.4 210.2H485.4V379M12.6 210V401.3H505.6V379.2H12.6M15.5 210.4V379M55.5 210.4V379" stroke="#e4e4ec" stroke-width="0.9" fill="none"/>
<path d="M481.3 210.6V378.6" stroke="#e01860" stroke-width="1"/>
<path d="M483.6 210.6V378.6" stroke="#2a22ae" stroke-width="1.4"/>
<path d="M57.9 378.6L57.9 378.2L58.6 377.8L59.3 377.7L60.0 376.6L60.7 376.3L61.4 375.8L62.0 375.7L62.7 374.9L63.4 374.9L64.1 375.4L64.8 376.3L65.5 376.3L66.2 376.7L66.9 376.7L67.6 376.4L68.3 377.5L69.0 377.4L69.7 377.7L70.5 377.4L71.2 377.6L72.0 377.3L72.7 378.0L73.5 378.0L74.2 378.1L75.0 377.9L75.7 377.3L76.5 377.6L77.2 378.2L78.0 377.2L78.7 377.5L79.5 377.3L80.2 377.3L81.0 377.7L81.7 376.9L82.4 376.8L83.1 375.7L83.8 375.7L84.5 375.9L85.1 375.1L85.8 374.9L86.5 375.0L87.3 375.5L88.0 376.5L88.7 375.9L89.4 375.0L90.1 374.6L90.8 373.4L91.5 373.1L92.3 372.6L93.0 372.2L93.7 371.0L94.4 371.2L95.1 371.4L95.8 370.5L96.5 369.2L97.2 369.6L97.9 368.9L98.6 367.6L99.3 367.2L100.0 366.3L100.7 366.9L101.4 365.6L102.1 365.3L102.8 364.4L103.5 364.7L104.2 364.8L104.9 362.0L105.6 362.5L106.3 361.9L107.0 360.1L107.7 359.4L108.4 357.9L109.1 355.6L109.7 354.3L110.3 354.3L110.8 352.6L111.4 354.2L112.0 353.8L112.5 356.0L113.2 357.1L113.9 356.3L114.6 357.8L115.4 358.5L116.1 358.0L116.8 359.0L117.5 359.8L118.3 360.3L119.0 359.9L119.7 359.9L120.4 359.6L121.1 361.1L121.8 361.6L122.5 361.9L123.2 360.2L123.9 359.6L124.6 358.5L125.4 357.5L126.1 355.4L126.8 354.4L127.5 351.5L128.2 351.3L129.0 349.3L129.7 347.3L130.4 346.6L131.0 343.5L131.7 343.0L132.2 335.7L132.7 328.9L133.1 313.7L133.5 298.0L133.9 279.8L134.4 261.3L134.8 247.7L135.2 233.2L135.8 217.7L136.2 216.0L136.8 216.7L137.5 216.0L137.9 220.5L138.6 236.0L139.2 248.4L139.7 261.3L140.3 279.2L140.8 298.0L141.3 310.8L141.7 323.3L142.1 329.8L142.5 337.4L143.2 342.1L143.9 346.5L144.6 351.5L145.3 353.5L145.9 356.5L146.5 358.8L147.2 360.8L147.9 361.6L148.6 360.6L149.3 363.3L150.0 362.7L150.7 362.3L151.3 361.9L152.0 359.9L152.5 359.1L153.1 358.1L153.7 356.5L154.4 356.7L155.1 354.9L155.7 356.7L156.4 357.7L157.0 358.5L157.7 357.8L158.5 358.2L159.2 360.5L159.9 361.3L160.6 360.6L161.3 361.3L162.0 361.0L162.7 361.9L163.4 363.3L164.1 363.5L164.8 362.3L165.5 363.6L166.2 363.0L166.9 363.2L167.6 364.6L168.3 363.6L169.0 365.2L169.7 364.2L170.4 363.9L171.1 364.7L171.9 364.6L172.7 364.0L173.4 365.8L174.2 363.9L175.0 364.9L175.7 364.9L176.5 364.2L177.3 364.7L178.0 366.5L178.8 366.3L179.6 365.6L180.3 365.5L181.1 366.6L181.8 366.8L182.6 366.8L183.3 366.6L184.0 366.3L184.8 366.3L185.5 366.8L186.3 366.7L187.0 367.6L187.8 366.0L188.5 367.6L189.3 367.4L190.0 367.0L190.5 366.8L191.1 367.7L191.6 366.9L192.4 366.5L193.2 366.8L194.0 367.2L194.7 368.1L195.5 366.6L196.3 367.9L197.1 367.5L197.8 368.1L198.6 366.8L199.4 367.6L200.2 368.1L200.9 368.2L201.7 367.8L202.5 368.2L203.3 367.5L204.0 367.1L204.7 366.2L205.4 364.7L206.1 364.7L206.8 364.0L207.3 362.8L207.9 360.3L208.5 356.7L209.2 351.9L210.0 349.5L210.7 351.1L211.4 353.8L212.0 355.6L212.6 359.6L213.2 361.1L213.8 361.5L214.4 364.3L215.1 364.2L215.7 365.9L216.4 367.5L217.1 368.6L217.8 367.1L218.5 368.2L219.3 367.7L220.0 368.9L220.7 367.7L221.5 369.1L222.2 368.4L222.9 369.9L223.6 369.2L224.4 368.6L225.1 369.0L225.8 367.4L226.5 368.1L227.3 369.2L228.0 368.9L228.7 369.7L229.5 369.7L230.2 368.7L230.9 370.3L231.6 369.9L232.4 370.4L233.1 369.8L233.9 371.0L234.7 370.6L235.5 370.0L236.2 369.4L237.0 370.4L237.8 369.3L238.6 369.6L239.3 369.2L240.1 369.4L240.9 370.4L241.7 369.5L242.4 370.8L243.2 369.5L244.0 369.8L244.8 369.7L245.5 368.9L246.3 368.0L247.0 367.2L247.8 366.3L248.5 364.8L249.2 365.6L250.0 365.2L250.7 363.4L251.4 364.5L252.0 364.6L252.7 366.3L253.3 366.4L253.9 367.8L254.5 369.2L255.2 368.3L256.0 364.9L256.8 363.4L257.6 361.6L258.4 361.0L259.1 359.6L259.8 360.1L260.5 363.7L261.2 364.6L261.9 366.6L262.7 366.9L263.5 368.7L264.2 368.0L265.0 369.9L265.8 369.9L266.5 370.1L267.3 369.8L268.0 368.6L268.8 369.3L269.5 368.0L270.3 366.0L271.1 366.3L271.7 366.5L272.4 364.9L273.0 362.7L273.7 362.5L274.3 363.0L274.8 361.6L275.4 360.8L276.1 362.4L276.8 362.1L277.5 364.6L278.2 365.1L279.0 367.5L279.8 368.1L280.5 367.5L281.2 368.3L281.9 368.5L282.6 369.9L283.3 369.5L284.0 371.1L284.7 371.0L285.5 370.8L286.2 371.2L286.9 371.4L287.6 371.3L288.4 369.9L289.1 370.0L289.8 370.7L290.5 369.7L291.3 370.7L292.0 369.8L292.7 369.1L293.5 369.3L294.2 368.3L294.9 368.4L295.7 369.3L296.4 369.0L297.2 369.8L297.9 370.9L298.7 371.0L299.5 371.6L300.3 370.4L301.0 370.5L301.8 370.6L302.6 371.6L303.4 371.4L304.2 371.6L305.0 371.7L305.8 370.8L306.5 371.3L307.2 370.9L307.9 369.6L308.6 369.8L309.3 369.8L310.0 369.2L310.7 369.3L311.3 370.7L312.0 370.1L312.6 371.0L313.2 371.6L314.0 371.9L314.8 371.3L315.5 372.0L316.3 371.7L317.1 371.2L317.8 371.4L318.6 372.3L319.3 372.7L320.1 372.5L320.9 372.9L321.6 372.6L322.4 372.9L323.2 373.0L323.9 372.7L324.7 372.7L325.5 372.7L326.2 372.3L327.0 372.4L327.8 372.2L328.5 372.3L329.3 372.8L330.0 372.7L330.8 373.1L331.6 373.6L332.3 372.8L333.1 373.8L333.9 373.7L334.6 372.8L335.4 373.5L336.2 372.9L336.9 372.8L337.7 373.1L338.5 373.1L339.2 372.8L340.0 373.6L338.7 374.0L339.5 373.5L340.3 374.6L341.1 374.8L341.9 374.8L342.7 373.9L343.5 373.9L344.3 375.1L345.1 374.5L345.9 374.5L346.7 375.1L347.5 374.9L348.2 375.0L349.0 374.8L349.8 374.6L350.6 374.7L351.3 375.5L352.1 375.8L352.9 374.7L353.7 375.0L354.4 375.5L355.2 375.2L356.0 375.5L356.8 375.6L357.5 375.4L358.3 375.3L359.1 375.8L359.9 375.7L360.6 376.2L361.4 375.5L362.2 376.0L362.9 376.3L363.7 376.1L364.4 375.9L365.2 376.6L366.0 376.5L366.7 376.7L367.5 376.0L368.3 376.2L369.0 376.2L369.8 376.7L370.6 376.5L371.3 376.5L372.1 376.4L372.9 376.9L373.6 376.5L374.4 376.4L375.2 376.1L375.9 376.2L376.7 376.3L377.5 376.2L378.2 377.2L379.0 376.7L379.8 377.0L380.5 376.7L381.3 376.8L382.1 376.5L382.8 377.2L383.6 376.7L384.4 376.7L385.1 377.1L385.9 377.3L386.7 377.4L387.4 376.9L388.2 376.9L389.0 376.9L389.8 377.3L390.6 376.9L391.4 376.7L392.1 377.0L392.9 376.9L393.7 376.8L394.5 377.4L395.3 377.0L396.1 377.3L396.9 377.0L397.7 376.8L398.5 377.5L399.3 377.5L400.1 377.5L400.9 377.4L401.7 376.9L402.5 377.3L403.3 377.7L404.0 377.6L404.8 377.5L405.6 377.4L406.4 377.5L407.2 377.1L408.0 376.9L408.8 377.8L409.6 376.9L410.3 377.2L411.1 377.3L411.9 377.7L412.7 377.7L413.5 377.8L414.3 377.9L415.0 377.3L415.8 377.2L416.6 377.1L417.4 377.3L418.2 377.1L419.0 378.0L419.7 377.6L420.5 377.5L421.3 377.1L422.1 378.0L422.9 377.3L423.7 377.9L424.4 377.3L425.2 377.4L426.0 377.6L426.8 377.3L427.6 377.7L428.4 377.5L429.2 377.8L430.0 377.9L430.8 377.5L431.6 377.4L432.3 377.8L433.1 377.7L433.9 377.7L434.7 377.8L434.7 378.6Z" fill="#ffff1e"/>
<path d="M430 378.2h3M436 378.2h2M466 378.2h2M470 378.2h3M476 378.2h2" stroke="#ffff1e" stroke-width="0.8"/>
<g font-family="'Liberation Sans',sans-serif" font-weight="bold" font-size="11.4px" fill="#f4f4f4">
<text x="28.7" y="221.9" textLength="22.0" lengthAdjust="spacing">200</text>
<text x="20.6" y="246.7" textLength="20.0" lengthAdjust="spacing">160</text>
<text x="20.6" y="280.5" textLength="20.0" lengthAdjust="spacing">120</text>
<text x="27.4" y="314.5" textLength="13.2" lengthAdjust="spacing">80</text>
<text x="27.4" y="348.1" textLength="13.2" lengthAdjust="spacing">40</text>
<path d="M49 243.4h6.5M49 277.2h6.5M49 311.2h6.5M49 344.8h6.5" stroke="#f0f0f0" stroke-width="1.3"/>
<text x="126.9" y="396.9" textLength="28.2" lengthAdjust="spacing">2.00</text>
<text x="210.4" y="396.9" textLength="28.2" lengthAdjust="spacing">4.00</text>
<text x="293.9" y="396.9" textLength="28.2" lengthAdjust="spacing">6.00</text>
<text x="377.4" y="396.9" textLength="28.2" lengthAdjust="spacing">8.00</text>
<text x="454.6" y="396.9" textLength="36.6" lengthAdjust="spacing">10.00</text>
<path d="M140.6 379.5v6.5M224.1 379.5v6.5M307.6 379.5v6.5M391.1 379.5v6.5M474.8 379.5v6.5" stroke="#f0f0f0" stroke-width="1.1"/>
</g>
<g font-family="'Liberation Mono',monospace" font-weight="bold" font-size="12px" fill="#f4f4f4">
<text x="489" y="377.2" font-size="11.5px" textLength="22.5" lengthAdjust="spacingAndGlyphs">keV</text>
</g>
<g font-family="'Liberation Mono',monospace" font-weight="bold" font-size="11px" fill="#ee1048" stroke="#ee1048" stroke-width="0.25" letter-spacing="0.2">
<text x="127.5" y="225.5">Y</text>
<text x="102.3" y="350.8">As</text>
<text x="87.3" y="362.5">Nd</text>
<text x="148" y="346.8">Pb</text>
<text x="160.5" y="357">Pb</text>
<text x="203.9" y="344.2">Ca</text>
<text x="221.6" y="363.1">Ca</text>
<text x="243" y="363">La</text>
<text x="251.9" y="356.7">Ce</text>
<text x="260" y="340.2">La</text>
<text x="271.6" y="361">Ce</text>
<text x="289" y="356">Nd</text>
<text x="284" y="367.5">Ce</text>
<text x="305" y="368.4">Nd</text>
<text x="260.6" y="374.8" fill="#28e0c0" stroke="#28e0c0">Nd</text>
</g>
<text x="78.5" y="232" font-family="'Liberation Sans',sans-serif" font-weight="bold" font-size="13.5px" fill="#fff" stroke="#fff" stroke-width="0.35" textLength="19" lengthAdjust="spacingAndGlyphs">(b)</text>
<text x="161" y="231.9" font-family="'Liberation Serif',serif" font-size="19.5px" fill="#fff" textLength="86.5" lengthAdjust="spacingAndGlyphs">Synchysite</text>
<rect x="519.2" y="208.8" width="18.4" height="18.8" fill="#0082b8"/><path d="M519.7 227.60000000000002V209.3H537.6" stroke="#d8d8d8" stroke-width="1.1" fill="none"/><path d="M519.5 226.70000000000002H536.7V209.10000000000002" stroke="#000" stroke-width="1.8" fill="none"/><path d="M530.2 212.20000000000002L536.4000000000001 225.0H523.8000000000001 Z" fill="#000"/><path d="M528.8000000000001 211.3L534.2 223.20000000000002H522.4000000000001Z" fill="#fff"/>
<rect x="519.2" y="386.2" width="18.4" height="18.2" fill="#0082b8"/><path d="M519.7 404.4V386.7H537.6" stroke="#d8d8d8" stroke-width="1.1" fill="none"/><path d="M519.5 403.5H536.7V386.5" stroke="#000" stroke-width="1.8" fill="none"/><path d="M523.6 390.0H536.2L530.2 402.2Z" fill="#000"/><path d="M522.4000000000001 389.2H534.0000000000001L528.6 400.59999999999997Z" fill="#fff"/>
<rect x="519" y="277" width="14.2" height="57.2" fill="#1212cc"/>
<path d="M519.5 334.2V277.5H533.2" stroke="#000" stroke-width="1.1" fill="none"/>
<path d="M519.5 333.7H532.7V277.5" stroke="#f0d8d8" stroke-width="1" fill="none"/>
<g font-family="'Liberation Serif',serif" font-weight="bold" font-size="10.8px" fill="#fff" text-anchor="middle">
<text x="526.1" y="289.6">A</text>
<text x="526.1" y="301.5">U</text>
<text x="526.1" y="315.1">T</text>
<text x="526.1" y="327.2">O</text>
</g>
</g>
<g id="pc">
<rect x="9.6" y="429.4" width="528.8" height="204.8" fill="#000"/>
<rect x="53.2" y="429.4" width="465.2" height="182.6" fill="#231e8e"/>
<path d="M10 429.6V612H538.4M53.1 429.6V612" stroke="#a4a49c" stroke-width="0.8" fill="none"/>
<path d="M59.1 612.0L59.1 610.7L59.9 610.5L60.7 610.1L61.4 610.0L62.2 610.9L63.0 610.7L63.7 610.7L64.5 610.6L65.2 610.3L66.0 609.8L66.8 610.9L67.5 610.2L68.3 610.1L69.1 610.0L69.8 609.7L70.6 609.9L71.3 610.9L72.1 610.0L72.9 610.6L73.6 609.5L74.4 610.3L75.2 609.7L75.9 609.7L76.7 609.8L77.4 609.9L78.2 610.4L79.0 610.0L79.7 610.7L80.5 610.1L81.3 609.5L82.0 610.6L82.8 609.8L83.5 610.3L84.3 609.6L85.1 609.2L85.8 610.3L86.6 609.8L87.4 609.8L88.1 609.4L88.9 609.7L89.6 609.2L90.4 609.9L91.2 609.4L91.9 609.8L92.7 608.5L93.5 608.2L94.2 609.3L95.0 609.1L95.7 608.3L96.5 608.8L97.3 607.6L98.0 607.3L98.8 608.2L99.6 606.4L100.3 606.8L101.1 605.7L101.8 605.4L102.6 605.4L103.4 605.3L104.1 604.9L104.9 604.9L105.7 604.4L106.4 602.8L107.2 603.1L107.9 603.1L108.7 601.4L109.5 602.1L110.2 603.0L111.0 601.3L111.8 601.5L112.5 602.1L113.3 601.5L114.0 600.0L114.8 598.1L115.6 597.9L116.3 599.4L117.1 598.8L117.9 599.9L118.6 597.9L119.4 596.9L120.1 599.0L120.9 598.0L121.7 597.6L122.4 596.1L123.2 597.3L123.9 596.6L124.6 595.8L125.3 595.4L125.9 593.6L126.5 591.9L127.2 585.2L127.8 583.6L128.4 575.1L129.0 565.3L129.6 554.3L130.2 543.9L130.9 536.9L131.6 530.2L132.1 532.2L132.6 535.4L133.3 544.9L133.9 553.1L134.6 562.1L135.4 571.4L136.2 575.4L136.9 581.1L137.4 582.0L137.8 583.0L138.6 580.7L139.4 581.1L140.1 578.0L140.9 578.7L141.6 577.8L142.4 580.5L143.2 581.3L143.9 583.0L144.5 584.2L145.2 583.7L145.8 585.6L146.4 588.5L147.1 591.1L147.7 590.8L148.4 593.6L149.1 592.7L149.9 593.2L150.6 595.1L151.4 594.3L152.2 593.3L152.9 592.2L153.7 594.3L154.5 592.2L155.2 594.1L156.0 592.8L156.7 591.5L157.3 589.9L158.0 588.5L158.6 589.6L159.2 588.2L159.8 591.0L160.4 589.4L161.0 591.5L161.6 594.2L162.2 593.0L162.8 592.4L163.4 594.3L164.2 593.2L165.0 595.5L165.8 596.5L166.6 593.8L167.4 595.2L168.1 594.4L168.8 594.4L169.5 596.1L170.2 594.6L170.9 594.3L171.5 594.7L172.2 593.7L172.8 594.4L173.5 594.9L174.2 593.0L174.9 593.0L175.6 593.5L176.3 592.3L177.0 593.5L177.7 591.7L178.5 591.9L179.2 591.5L179.9 594.2L180.6 591.7L181.3 593.5L181.8 591.1L182.4 590.4L183.0 586.5L183.5 579.7L184.1 572.4L184.6 560.7L185.2 549.9L185.8 532.8L186.3 516.1L186.9 499.0L187.5 482.3L188.0 472.7L188.5 463.9L189.1 456.3L189.5 453.5L189.9 456.9L190.4 465.4L191.1 476.6L191.5 483.5L192.0 492.1L192.5 500.6L193.1 510.4L193.7 512.7L194.1 506.9L194.5 502.5L194.9 498.6L195.4 495.8L195.9 497.6L196.5 500.8L197.0 507.7L197.5 516.1L198.0 525.4L198.6 534.4L199.2 542.9L199.7 552.7L200.3 560.4L200.8 568.2L201.3 574.2L201.8 579.4L202.3 582.7L202.8 585.9L203.6 586.3L204.4 584.8L204.9 585.5L205.5 583.8L206.1 583.7L206.8 586.0L207.5 590.7L208.1 590.3L208.8 594.3L209.4 594.9L210.1 594.9L210.8 595.1L211.5 594.8L212.3 596.9L213.0 595.9L213.7 598.8L214.4 597.4L215.1 597.7L215.8 598.4L216.5 597.7L217.2 594.6L217.9 594.9L218.6 593.2L219.4 595.2L220.1 593.0L220.8 592.9L221.5 595.4L222.1 596.1L222.8 598.5L223.5 597.5L224.2 598.1L224.9 599.2L225.6 601.0L226.3 600.9L227.0 601.3L227.7 600.8L228.5 599.4L229.2 600.6L229.9 599.2L230.6 599.2L231.3 602.1L232.0 601.0L232.7 602.1L233.4 602.4L234.1 600.2L234.8 601.1L235.5 602.7L236.3 600.5L237.0 600.3L237.8 600.6L238.5 602.9L239.3 602.8L240.0 601.1L240.8 601.5L241.5 602.6L242.3 602.6L243.1 603.0L243.8 601.4L244.6 601.1L245.3 602.0L246.1 602.0L246.8 603.3L247.6 602.4L248.4 603.2L249.1 601.3L249.9 602.2L250.7 603.5L251.4 602.5L252.2 603.2L253.0 603.3L253.7 602.3L254.5 602.5L255.2 603.1L256.0 603.2L256.7 602.5L257.4 602.8L258.1 603.6L258.9 603.9L259.6 602.8L260.0 603.5L260.8 604.9L261.5 603.2L262.3 604.1L263.1 603.8L263.8 604.7L264.6 603.0L265.3 603.7L266.1 603.2L266.9 604.7L267.6 604.5L268.4 602.6L269.2 602.9L269.9 603.0L270.7 604.3L271.5 604.8L272.2 603.7L273.0 603.0L273.7 604.4L274.5 604.5L275.3 604.3L276.1 604.1L276.8 603.8L277.6 604.0L278.4 603.7L279.2 605.3L280.0 604.2L280.8 605.1L281.6 604.7L282.4 603.9L283.2 604.1L284.0 605.1L284.7 605.7L285.5 605.9L286.3 603.9L287.1 604.3L287.9 603.9L288.7 604.2L289.5 604.7L290.3 605.6L291.1 606.1L291.9 605.3L292.6 604.3L293.4 604.9L294.2 604.3L295.0 604.7L295.8 605.5L296.6 605.3L297.4 604.6L298.2 605.4L299.0 604.9L299.8 606.4L300.6 605.8L301.3 605.8L302.1 605.1L302.9 605.1L303.7 606.2L304.5 604.4L305.3 606.0L306.1 606.8L306.9 606.0L307.7 604.6L308.5 604.6L309.3 606.4L310.1 605.0L310.9 605.6L311.7 606.2L312.5 606.3L313.3 605.4L314.1 606.3L314.9 606.9L315.7 605.9L316.5 605.7L317.3 606.4L318.0 606.9L318.8 606.5L319.6 607.1L320.4 606.7L321.2 607.2L322.0 605.6L322.8 606.6L323.6 606.2L324.4 605.5L325.1 605.2L325.9 605.7L326.7 607.1L327.4 605.5L328.2 605.5L329.0 606.9L329.7 607.0L330.5 606.4L331.2 605.4L332.0 606.5L332.8 604.6L333.5 604.4L334.3 604.5L335.1 605.5L335.7 604.7L336.4 604.0L337.0 605.1L337.7 603.6L338.4 603.3L339.1 603.0L339.9 600.7L340.7 599.4L341.3 597.7L341.8 596.3L342.4 595.6L343.2 592.8L344.0 593.6L344.6 594.7L345.2 596.1L345.8 599.3L346.4 600.8L347.0 600.7L347.7 603.2L348.4 602.0L349.1 604.3L349.8 604.4L350.6 605.7L351.3 604.2L352.1 604.3L352.9 605.7L353.6 605.0L354.4 604.7L355.1 606.3L355.8 606.3L356.6 607.0L357.3 604.8L358.1 606.4L358.8 606.6L359.6 605.2L360.3 605.0L361.0 607.2L361.8 606.1L362.6 606.8L363.4 605.1L364.2 605.4L365.0 606.6L365.8 605.4L366.6 606.1L367.3 605.5L368.1 605.4L368.9 606.3L369.7 606.5L370.5 607.2L371.3 605.3L372.1 606.1L372.9 605.5L373.7 606.7L374.5 606.6L375.3 605.8L376.1 606.2L376.9 607.7L377.7 607.0L378.5 607.1L379.3 607.0L380.1 606.1L380.9 607.2L381.7 607.9L382.5 606.0L383.3 607.7L384.0 606.6L384.8 606.3L385.6 607.4L386.4 607.8L387.2 607.1L388.0 606.4L388.8 606.5L389.5 607.2L390.3 606.5L391.0 607.2L391.8 608.3L392.6 606.2L393.3 607.1L394.1 606.7L394.9 606.6L395.6 607.5L396.4 608.3L397.2 607.3L397.9 607.6L398.7 607.5L397.6 607.6L398.4 608.0L399.2 608.4L400.0 608.6L400.7 607.3L401.5 607.0L402.3 608.5L403.1 607.9L403.8 608.5L404.6 606.9L405.4 608.3L406.2 606.9L406.9 606.9L407.7 606.9L408.5 607.5L409.2 607.6L410.0 608.1L410.8 608.7L411.6 607.6L412.3 608.0L413.1 607.6L413.9 607.6L414.7 607.3L415.4 607.8L416.2 606.8L417.0 607.3L417.8 608.3L418.6 608.5L419.4 608.3L420.2 607.8L421.0 607.7L421.8 607.3L422.6 607.4L423.4 608.9L424.2 608.1L425.0 607.7L425.8 608.0L426.6 607.9L427.4 607.5L428.2 608.0L429.0 607.8L429.8 607.9L430.6 608.9L431.3 608.9L432.1 607.7L432.9 608.0L433.7 607.6L434.5 609.1L435.3 607.5L436.1 608.2L436.9 607.3L437.7 608.2L438.5 608.2L439.3 607.4L440.1 607.7L440.9 608.4L441.7 608.4L442.5 608.1L443.3 607.6L444.1 608.2L444.9 608.3L445.7 607.8L446.5 608.8L447.3 608.1L448.0 608.7L448.8 609.1L449.6 607.8L450.4 608.7L451.2 609.0L452.0 609.6L452.8 609.2L453.6 608.9L454.4 609.5L455.2 609.2L456.0 608.4L456.7 609.5L457.5 609.4L458.3 608.9L459.1 609.8L459.9 608.2L460.7 609.8L461.4 608.8L462.2 609.1L463.0 609.6L463.8 608.5L464.6 609.1L465.4 608.2L466.1 608.3L466.9 610.0L467.7 608.7L468.5 609.1L469.3 608.5L470.1 610.1L470.8 609.3L471.6 610.0L472.4 608.9L473.2 609.3L474.0 609.4L474.7 608.9L475.5 609.5L476.3 609.8L477.1 609.5L477.8 609.6L478.6 609.1L479.4 610.3L480.2 608.6L480.9 608.9L481.7 609.8L482.5 610.3L483.3 610.1L484.0 609.1L484.8 610.3L485.6 609.5L486.4 609.7L487.1 609.8L487.9 609.8L488.7 610.3L489.5 610.3L490.2 609.3L491.0 610.3L491.8 609.6L492.6 609.3L493.4 610.0L494.2 609.0L495.0 609.9L495.8 609.3L496.6 610.5L497.3 610.0L498.1 609.5L498.9 610.5L499.7 609.0L500.5 610.1L501.3 610.0L502.1 608.9L502.9 609.7L503.7 609.1L504.5 610.6L505.3 609.0L506.1 610.0L506.9 609.8L507.7 609.1L508.5 610.5L509.3 609.9L510.1 610.0L510.9 609.4L511.7 609.2L512.5 609.5L513.3 609.0L514.0 609.3L514.8 609.8L515.6 609.7L516.4 610.3L517.2 609.9L518.0 609.9L518.0 612.0Z" fill="#ffd400"/>
<path d="M258.2 429.6V448" stroke="#d02070" stroke-width="0.9"/>
<path d="M258.2 448V612" stroke="#3c9a78" stroke-width="0.9"/>
<path d="M276.5 592.6V606" stroke="#20a060" stroke-width="0.9"/><path d="M276.5 606V612" stroke="#f08020" stroke-width="0.9"/>
<g font-family="'Liberation Sans',sans-serif" font-weight="bold" font-size="7.6px" fill="#ececec">
<text x="34.8" y="439.1" textLength="8.8" lengthAdjust="spacing">30</text>
<text x="32.8" y="468.1" textLength="8.8" lengthAdjust="spacing">24</text>
<text x="32.8" y="504.4" textLength="8.8" lengthAdjust="spacing">18</text>
<text x="32.8" y="541.4" textLength="8.8" lengthAdjust="spacing">12</text>
<text x="37.4" y="577.8" textLength="4.2" lengthAdjust="spacing">6</text>
<path d="M45.8 465.4h6.8M45.8 501.6h6.8M45.8 538.8h6.8M45.8 575h6.8" stroke="#b4b4b4" stroke-width="0.9"/>
<text x="136.5" y="631.1" textLength="19.4" lengthAdjust="spacing">2.00</text>
<text x="227.3" y="631.1" textLength="19.4" lengthAdjust="spacing">4.00</text>
<text x="317.7" y="631.1" textLength="19.4" lengthAdjust="spacing">6.00</text>
<text x="409.1" y="631.1" textLength="19.4" lengthAdjust="spacing">8.00</text>
<text x="495.0" y="631.1" textLength="24" lengthAdjust="spacing">10.00</text>
<path d="M144 612.4v8M234.8 612.4v8M325.5 612.4v8M416.2 612.4v8M507.2 612.4v8" stroke="#b4b4b4" stroke-width="0.9"/>
</g>
<g font-family="'Liberation Mono',monospace" font-weight="bold" font-size="8px" fill="#f0f0f0">
<text x="521.6" y="610.6" textLength="15.4" lengthAdjust="spacingAndGlyphs">keV</text>
</g>
<g font-family="'Liberation Mono',monospace" font-weight="bold" font-size="8.4px" fill="#ee1048" stroke-width="0.2">
<text x="182.6" y="456" fill="#ee1048">Th</text>
<text x="181.6" y="470" fill="#ee1048">Ac</text>
<text x="126" y="534" fill="#ee1048">Si</text>
<text x="138.3" y="579" fill="#ee1048">Y</text>
<text x="214.3" y="591.6" fill="#ee1048">Ca</text>
<text x="383.9" y="606" fill="#ee1048">Yb</text>
<text x="428.7" y="607.7" fill="#ee1048">Yb</text>
<text x="444.7" y="609.3" fill="#ee1048">Yb</text>
<text x="491.3" y="609.6" fill="#ee1048">Yb</text>
<text x="190.3" y="549.7" fill="#28e0c0">Ag</text>
<text x="199.6" y="594.7" fill="#28e0c0">Ag</text>
<text x="229.2" y="608.3" fill="#28e0c0">Ca</text>
<defs><linearGradient id="cr" x1="0" x2="1" y1="0" y2="0"><stop offset="0.5" stop-color="#28e0c0"/><stop offset="0.5" stop-color="#ee1048"/></linearGradient></defs>
<text x="189.2" y="502.2" fill="url(#cr)">Cd</text>
<text x="190.3" y="526" fill="url(#cr)">Th</text>
</g>
<text x="78.8" y="449.5" font-family="'Liberation Sans',sans-serif" font-weight="bold" font-size="12.5px" fill="#fff" textLength="18.3" lengthAdjust="spacingAndGlyphs">(c)</text>
<text x="114.7" y="496" font-family="'Liberation Serif',serif" font-size="20.5px" fill="#fff" textLength="58" lengthAdjust="spacingAndGlyphs">Thorite</text>
</g>
</svg>
</body></html>
